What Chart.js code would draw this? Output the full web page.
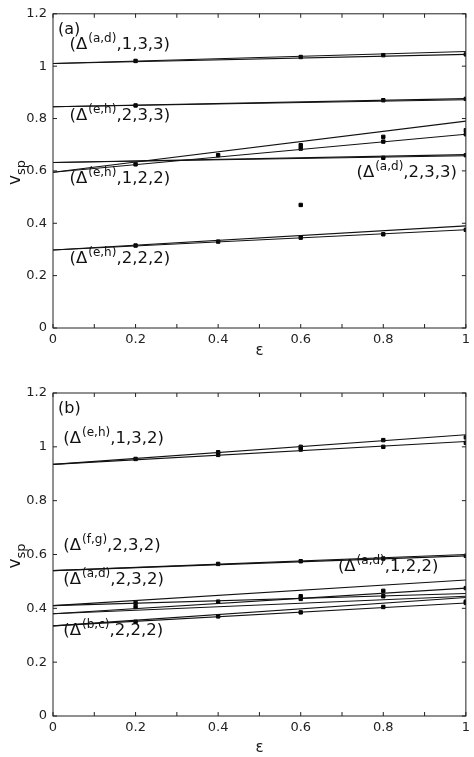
<!DOCTYPE html>
<html>
<head>
<meta charset="utf-8">
<script src="https://cdn.jsdelivr.net/npm/chart.js@4/dist/chart.umd.min.js"></script>
<style>
  body { margin: 0; background: #fff; }
  #wrapA { position: absolute; left: 0; top: 0; width: 474px; height: 360px; }
  #wrapB { position: absolute; left: 0; top: 360px; width: 474px; height: 397px; }
</style>
</head>
<body>
<div id="wrapA"><canvas id="chartA"></canvas></div>
<div id="wrapB"><canvas id="chartB"></canvas></div>
<script>
'use strict';

const xTicks = [0, 0.2, 0.4, 0.6, 0.8, 1];
const yTicks = [0, 0.2, 0.4, 0.6, 0.8, 1, 1.2];

// panel (a): fitted lines [value at eps=0, value at eps=1]
const linesA = [
  [1.01, 1.056], [1.01, 1.045],
  [0.845, 0.876], [0.845, 0.872],
  [0.595, 0.79], [0.595, 0.74],
  [0.632, 0.662], [0.632, 0.658],
  [0.298, 0.39], [0.298, 0.375],
];
const markEpsA = [0.2, 0.6, 0.8, 1, 0.2, 0.8, 1, 0.2, 0.4, 0.6, 0.6, 0.8, 0.8, 1, 1, 0.8, 1, 0.6, 0.2, 0.4, 0.6, 0.8, 1];
const markValA = [1.02, 1.035, 1.042, 1.045, 0.85, 0.87, 0.875, 0.625, 0.66, 0.685, 0.698, 0.712, 0.73, 0.74, 0.755, 0.65, 0.66, 0.47, 0.315, 0.33, 0.345, 0.358, 0.375];
const labelsA = [
  { x: 0.04, y: 1.065, sup: 'a,d', rest: ',1,3,3' },
  { x: 0.04, y: 0.795, sup: 'e,h', rest: ',2,3,3' },
  { x: 0.04, y: 0.555, sup: 'e,h', rest: ',1,2,2' },
  { x: 0.735, y: 0.575, sup: 'a,d', rest: ',2,3,3' },
  { x: 0.04, y: 0.25, sup: 'e,h', rest: ',2,2,2' },
];

// panel (b)
const linesB = [
  [0.935, 1.045], [0.935, 1.02],
  [0.54, 0.6], [0.54, 0.595],
  [0.41, 0.505], [0.38, 0.475], [0.41, 0.455], [0.38, 0.445],
  [0.335, 0.44], [0.335, 0.42],
];
const markEpsB = [0.2, 0.4, 0.4, 0.6, 0.6, 0.8, 0.8, 1, 1, 0.4, 0.6, 0.8, 1, 0.2, 0.2, 0.4, 0.6, 0.6, 0.8, 0.8, 1, 1, 0.2, 0.4, 0.6, 0.8, 1];
const markValB = [0.955, 0.97, 0.98, 0.99, 1.0, 1.0, 1.025, 1.015, 1.035, 0.565, 0.575, 0.585, 0.595, 0.405, 0.42, 0.425, 0.435, 0.445, 0.445, 0.465, 0.425, 0.475, 0.35, 0.37, 0.385, 0.405, 0.42];
const labelsB = [
  { x: 0.025, y: 1.015, sup: 'e,h', rest: ',1,3,2' },
  { x: 0.025, y: 0.615, sup: 'f,g', rest: ',2,3,2' },
  { x: 0.69, y: 0.54, sup: 'a,d', rest: ',1,2,2' },
  { x: 0.025, y: 0.49, sup: 'a,d', rest: ',2,3,2' },
  { x: 0.025, y: 0.3, sup: 'b,c', rest: ',2,2,2' },
];

const FONT = 'DejaVu Sans, sans-serif';

function makeDatasets( lines, epsArr, valArr ) {
  let ds = [];
  for ( let i = 0; i < lines.length; i++ ) {
    ds.push( {
      type: 'line',
      data: [{ x: 0, y: lines[i][0] }, { x: 1, y: lines[i][1] }],
      borderColor: '#111',
      borderWidth: 1.1,
      pointRadius: 0,
      fill: false,
    } );
  }
  let pts = [];
  for ( let i = 0; i < epsArr.length; i++ ) {
    pts.push( { x: epsArr[i], y: valArr[i] } );
  }
  ds.push( {
    type: 'scatter',
    data: pts,
    backgroundColor: '#000',
    borderColor: '#000',
    pointRadius: 2.4,
    pointStyle: 'rect',
  } );
  return ds;
}

function decorPlugin( tag, labels ) {
  return {
    id: 'decor' + tag,
    afterDatasetsDraw( chart ) {
      const ctx = chart.ctx;
      const a = chart.chartArea;
      const xs = chart.scales.x;
      const ys = chart.scales.y;
      ctx.save();
      // box
      ctx.strokeStyle = '#222';
      ctx.lineWidth = 1;
      ctx.strokeRect( a.left, a.top, a.right - a.left, a.bottom - a.top );
      // inner ticks
      ctx.beginPath();
      for ( let v = 0; v <= 1.0001; v += 0.1 ) {
        const px = xs.getPixelForValue( v );
        ctx.moveTo( px, a.bottom ); ctx.lineTo( px, a.bottom - 4 );
        ctx.moveTo( px, a.top ); ctx.lineTo( px, a.top + 4 );
      }
      for ( let i = 0; i < yTicks.length; i++ ) {
        const py = ys.getPixelForValue( yTicks[i] );
        ctx.moveTo( a.left, py ); ctx.lineTo( a.left + 4, py );
        ctx.moveTo( a.right, py ); ctx.lineTo( a.right - 4, py );
      }
      ctx.stroke();
      // panel tag
      ctx.fillStyle = '#111';
      ctx.font = '16px ' + FONT;
      ctx.textBaseline = 'alphabetic';
      ctx.fillText( tag, a.left + 5, a.top + 20 );
      // labels
      for ( let i = 0; i < labels.length; i++ ) {
        const l = labels[i];
        let px = xs.getPixelForValue( l.x );
        const py = ys.getPixelForValue( l.y );
        ctx.font = '16.5px ' + FONT;
        ctx.fillText( '(\u0394', px, py );
        px += ctx.measureText( '(\u0394' ).width;
        ctx.font = '12px ' + FONT;
        const s = '(' + l.sup + ')';
        ctx.fillText( s, px + 1, py - 7 );
        px += ctx.measureText( s ).width + 1;
        ctx.font = '16.5px ' + FONT;
        ctx.fillText( l.rest + ')', px, py );
      }
      // y title V_sp
      ctx.translate( 16, ( a.top + a.bottom ) / 2 );
      ctx.rotate( -Math.PI / 2 );
      ctx.font = '17px ' + FONT;
      ctx.textAlign = 'left';
      ctx.fillText( 'v', -14, 4 );
      ctx.font = '13px ' + FONT;
      ctx.fillText( 'sp', -4, 9 );
      ctx.restore();
    }
  };
}

function buildChart( id, tag, lines, epsArr, valArr, labels, topPad, xHeight ) {
  const ctx = document.getElementById( id ).getContext( '2d' );
  return new Chart( ctx, {
    data: { datasets: makeDatasets( lines, epsArr, valArr ) },
    options: {
      responsive: true,
      maintainAspectRatio: false,
      animation: false,
      layout: { padding: { left: 0, right: 3, top: topPad, bottom: 0 } },
      plugins: { legend: { display: false }, tooltip: { enabled: false } },
      scales: {
        x: {
          type: 'linear', min: 0, max: 1,
          grid: { display: false, drawTicks: false },
          border: { display: false },
          afterBuildTicks( axis ) { axis.ticks = xTicks.map( v => ( { value: v } ) ); },
          afterFit( axis ) { axis.height = xHeight; },
          ticks: { color: '#222', font: { family: FONT, size: 13 }, padding: 4, maxRotation: 0, callback: v => String( v ) },
          title: { display: true, text: '\u03b5', color: '#222', font: { family: FONT, size: 15 }, padding: { top: 0, bottom: 0 } },
        },
        y: {
          type: 'linear', min: 0, max: 1.2,
          grid: { display: false, drawTicks: false },
          border: { display: false },
          afterBuildTicks( axis ) { axis.ticks = yTicks.map( v => ( { value: v } ) ); },
          afterFit( axis ) { axis.width = 53; },
          ticks: { color: '#222', font: { family: FONT, size: 13 }, padding: 6, callback: v => String( Math.round( v * 10 ) / 10 ) },
        }
      }
    },
    plugins: [decorPlugin( tag, labels )]
  } );
}

buildChart( 'chartA', '(a)', linesA, markEpsA, markValA, labelsA, 3, 32 );
buildChart( 'chartB', '(b)', linesB, markEpsB, markValB, labelsB, 33, 41 );
</script>
</body>
</html>
